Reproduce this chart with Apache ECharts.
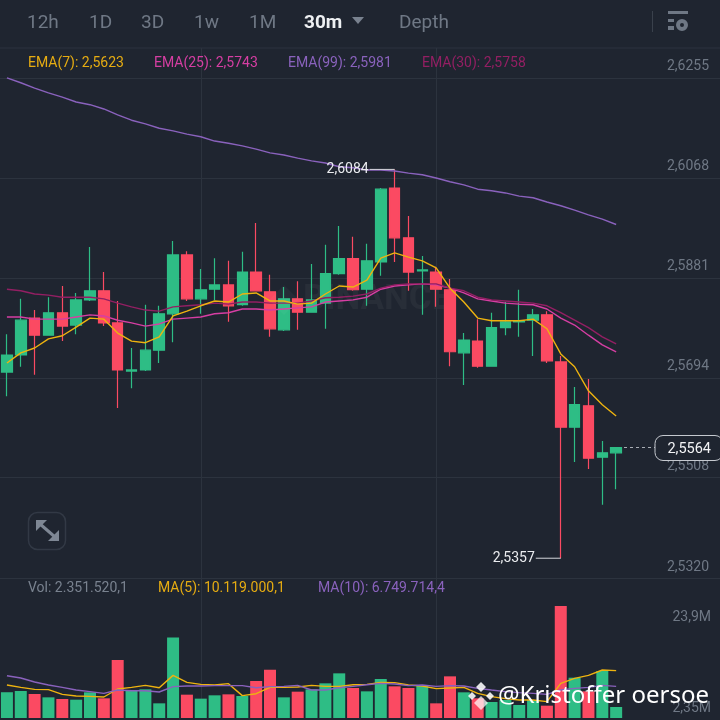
<!DOCTYPE html>
<html>
<head>
<meta charset="utf-8">
<script src="https://cdn.jsdelivr.net/npm/echarts@6/dist/echarts.min.js"></script>
<style>
  html, body { margin: 0; padding: 0; background: #1f2530; }
  #main { width: 720px; height: 720px; }
</style>
</head>
<body>
<div id="main"></div>
<script>
var opens = [2.5705,2.5737,2.5806,2.5774,2.5816,2.5793,2.5840,2.5857,2.5797,2.5707,2.5709,2.5746,2.5814,2.5924,2.5842,2.5860,2.5868,2.5831,2.5892,2.5855,2.5784,2.5842,2.5817,2.5834,2.5889,2.5917,2.5860,2.5911,2.6049,2.5956,2.5894,2.5892,2.5859,2.5741,2.5763,2.5716,2.5788,2.5799,2.5802,2.5812,2.5724,2.5602,2.5642,2.5546,2.5554];
var closes = [2.5737,2.5802,2.5774,2.5816,2.5791,2.5840,2.5857,2.5797,2.5709,2.5709,2.5746,2.5814,2.5924,2.5842,2.5859,2.5868,2.5829,2.5892,2.5857,2.5786,2.5842,2.5817,2.5840,2.5889,2.5917,2.5859,2.5913,2.6047,2.5956,2.5892,2.5896,2.5860,2.5743,2.5765,2.5716,2.5788,2.5799,2.5801,2.5812,2.5726,2.5602,2.5644,2.5544,2.5554,2.5564];
var lows = [2.5660,2.5715,2.5700,2.5773,2.5763,2.5776,2.5838,2.5791,2.5638,2.5675,2.5707,2.5722,2.5761,2.5838,2.5814,2.5840,2.5799,2.5829,2.5856,2.5771,2.5782,2.5784,2.5816,2.5786,2.5887,2.5857,2.5829,2.5885,2.5911,2.5857,2.5812,2.5827,2.5716,2.5681,2.5713,2.5715,2.5774,2.5771,2.5735,2.5722,2.5357,2.5537,2.5524,2.5457,2.5486];
var highs = [2.5776,2.5842,2.5821,2.5845,2.5866,2.5853,2.5939,2.5892,2.5838,2.5750,2.5831,2.5829,2.5950,2.5931,2.5898,2.5918,2.5913,2.5930,2.5984,2.5887,2.5864,2.5875,2.5907,2.5943,2.5978,2.5958,2.5945,2.6049,2.6084,2.5997,2.5922,2.5902,2.5879,2.5778,2.5804,2.5816,2.5836,2.5859,2.5823,2.5819,2.5735,2.5677,2.5692,2.5576,2.5564];

var ema7 = [2.5722,2.5741,2.5750,2.5767,2.5773,2.5789,2.5806,2.5804,2.5778,2.5763,2.5760,2.5771,2.5810,2.5819,2.5829,2.5838,2.5836,2.5851,2.5853,2.5838,2.5838,2.5832,2.5834,2.5851,2.5866,2.5864,2.5877,2.5918,2.5928,2.5920,2.5913,2.5900,2.5862,2.5836,2.5806,2.5801,2.5801,2.5801,2.5804,2.5786,2.5739,2.5715,2.5670,2.5644,2.5623];
var ema25 = [2.5808,2.5808,2.5804,2.5804,2.5804,2.5808,2.5812,2.5810,2.5802,2.5797,2.5791,2.5795,2.5804,2.5806,2.5808,2.5814,2.5816,2.5823,2.5823,2.5821,2.5823,2.5825,2.5827,2.5836,2.5838,2.5840,2.5845,2.5860,2.5866,2.5868,2.5870,2.5868,2.5862,2.5853,2.5842,2.5838,2.5834,2.5832,2.5831,2.5823,2.5806,2.5793,2.5774,2.5756,2.5743];
var ema99 = [2.6255,2.6246,2.6236,2.6227,2.6219,2.6210,2.6205,2.6197,2.6186,2.6176,2.6169,2.6161,2.6156,2.6150,2.6145,2.6137,2.6133,2.6128,2.6122,2.6115,2.6111,2.6105,2.6100,2.6096,2.6089,2.6087,2.6083,2.6083,2.6081,2.6077,2.6074,2.6068,2.6061,2.6055,2.6047,2.6044,2.6040,2.6034,2.6031,2.6023,2.6016,2.6008,2.5999,2.5991,2.5981];
var ema30 = [2.5860,2.5857,2.5851,2.5849,2.5845,2.5845,2.5845,2.5842,2.5834,2.5827,2.5821,2.5819,2.5827,2.5829,2.5831,2.5834,2.5832,2.5836,2.5836,2.5834,2.5834,2.5834,2.5838,2.5844,2.5845,2.5847,2.5851,2.5862,2.5868,2.5870,2.5870,2.5870,2.5862,2.5857,2.5845,2.5840,2.5838,2.5836,2.5834,2.5829,2.5816,2.5802,2.5788,2.5771,2.5758];

var volumes = [5.50,5.76,5.12,4.41,4.05,3.91,5.48,4.20,12.38,5.83,6.12,3.13,17.20,4.98,4.13,4.84,5.05,4.69,7.90,10.30,4.41,5.62,6.12,7.40,9.53,6.40,5.69,8.32,6.76,6.40,6.83,3.13,8.89,5.48,4.20,3.41,3.84,2.77,3.84,2.63,23.90,8.60,5.69,10.03,2.35];
var volMa5 = [7.04,6.54,6.12,6.05,5.05,4.69,4.62,4.48,6.19,6.54,6.97,6.47,9.10,7.61,7.18,7.04,7.33,4.77,5.19,6.54,6.54,6.62,6.97,6.76,6.76,7.11,7.18,7.61,7.54,7.04,6.83,6.26,6.40,6.54,5.26,4.55,4.13,3.84,3.84,3.49,7.40,8.46,9.10,10.24,10.12];
var volMa10 = [9.03,8.54,7.68,7.04,6.54,5.97,5.62,5.26,5.97,5.83,5.83,5.55,6.69,6.83,6.83,6.90,6.90,6.90,6.47,6.69,6.76,6.97,5.97,5.97,6.47,6.76,7.11,7.40,7.26,6.90,7.04,6.76,6.90,6.83,6.33,5.97,5.62,5.41,5.26,5.05,5.97,6.33,6.54,6.97,6.75];

var priceTicks = [2.5320, 2.5508, 2.5694, 2.5881, 2.6068, 2.6255];
var priceMin = 2.532, priceMax = 2.6311;
var volMax = 29.88;
var volTicks = [['23,9M', 23.9, 11], ['2,35M', 2.35, 2]];
var tabs = [['12h', 27], ['1D', 89], ['3D', 141], ['1w', 194], ['1M', 249], ['Depth', 399]];
var emaText = [['EMA(7): 2,5623', 28, '#e6ac12'], ['EMA(25): 2,5743', 154, '#d63ea3'], ['EMA(99): 2,5981', 288, '#8a62bd'], ['EMA(30): 2,5758', 422, '#931f63']];
var volText = [['Vol: 2.351.520,1', 28, '#79828f'], ['MA(5): 10.119.000,1', 158, '#e6ac12'], ['MA(10): 6.749.714,4', 318, '#8a62bd']];
var vLines = [14, 31];

var UP = '#2ebd85', DOWN = '#fb4a62', BG = '#1f2530', GRID = '#2c333e', MUTED = '#6f7885';
var FONT = 'Roboto';

// 7 empty slots on the right so the candles stop short of the price scale
var categories = [];
for (var n = 0; n < 52; n++) categories.push(String(n));

var ohlc = opens.map(function (o, i) { return [o, closes[i], lows[i], highs[i]]; });
var volBars = volumes.map(function (v, i) {
  return { value: v, itemStyle: { color: closes[i] >= opens[i] ? UP : DOWN } };
});

function line (name, data, color, xi, yi) {
  return {
    name: name, type: 'line', data: data, xAxisIndex: xi, yAxisIndex: yi,
    symbol: 'none', silent: true, z: 4,
    lineStyle: { color: color, width: 1.4 }
  };
}

function vMarks () {
  return {
    silent: true, symbol: 'none', z: 1, label: { show: false },
    lineStyle: { color: GRID, width: 1, type: 'solid' },
    data: vLines.map(function (i) { return { xAxis: i }; })
  };
}

function extreme (idx, val, text) {
  return {
    coord: [idx, val], symbol: 'rect', symbolSize: [25, 1], symbolOffset: [-12.5, 0],
    itemStyle: { color: '#d5d8dc' },
    label: { show: true, position: 'left', distance: 1, formatter: text, color: '#eaecef', fontSize: 14, fontFamily: FONT }
  };
}

var myChart = echarts.init(document.getElementById('main'));

myChart.setOption({
  animation: false,
  backgroundColor: BG,
  grid: [
    { left: -6, right: -2, top: 48, height: 530 },
    { left: -6, right: -2, top: 578, height: 140 }
  ],
  xAxis: [
    { type: 'category', gridIndex: 0, data: categories, axisLine: { show: false }, axisTick: { show: false }, axisLabel: { show: false } },
    { type: 'category', gridIndex: 1, data: categories, axisLine: { show: false }, axisTick: { show: false }, axisLabel: { show: false } }
  ],
  yAxis: [
    {
      type: 'value', gridIndex: 0, position: 'right', scale: true, min: priceMin, max: priceMax,
      axisLine: { show: false },
      axisTick: { show: false, customValues: priceTicks },
      splitLine: { show: true, lineStyle: { color: GRID, width: 1 } },
      axisLabel: {
        inside: true, customValues: priceTicks, margin: 11, align: 'right', verticalAlign: 'bottom',
        color: MUTED, fontSize: 14, fontFamily: FONT, lineHeight: 22,
        formatter: function (v) { return v.toFixed(4).replace('.', ','); }
      }
    },
    {
      type: 'value', gridIndex: 1, position: 'right', min: 0, max: volMax,
      axisLine: { show: false }, axisTick: { show: false }, axisLabel: { show: false }, splitLine: { show: false }
    }
  ],
  series: [
    {
      name: 'price', type: 'candlestick', data: ohlc, xAxisIndex: 0, yAxisIndex: 0, barWidth: 11, z: 2,
      itemStyle: { color: UP, color0: DOWN, borderColor: UP, borderColor0: DOWN, borderWidth: 1.2 },
      markLine: vMarks(),
      markPoint: { silent: true, z: 6, data: [extreme(28, 2.6084, '2,6084'), extreme(40, 2.5357, '2,5357')] }
    },
    line('EMA(25)', ema25, '#d63ea3', 0, 0),
    line('EMA(30)', ema30, '#931f63', 0, 0),
    line('EMA(99)', ema99, '#8a62bd', 0, 0),
    line('EMA(7)', ema7, '#eeb30f', 0, 0),
    { name: 'Vol', type: 'bar', data: volBars, xAxisIndex: 1, yAxisIndex: 1, barWidth: 12, z: 2, markLine: vMarks() },
    line('MA(5)', volMa5, '#eeb30f', 1, 1),
    line('MA(10)', volMa10, '#8a62bd', 1, 1)
  ]
});

function txt (text, x, y, color, size, extra) {
  return Object.assign({
    type: 'text', x: x, y: y, z: 10, silent: true,
    style: Object.assign({ text: text, fill: color, fontSize: size, fontFamily: FONT, verticalAlign: 'middle' }, extra && extra.style)
  }, extra && extra.el);
}

function rect (x, y, w, h, fill, r) {
  return { type: 'rect', z: 10, silent: true, shape: { x: x, y: y, width: w, height: h, r: r || 0 }, style: { fill: fill } };
}

function poly (points, fill, z, opacity) {
  return { type: 'polygon', z: z || 10, silent: true, shape: { points: points }, style: { fill: fill, opacity: opacity == null ? 1 : opacity } };
}

function diamond (cx, cy, r, fill, z, opacity) {
  return poly([[cx, cy - r], [cx + r, cy], [cx, cy + r], [cx - r, cy]], fill, z, opacity);
}

var lastY = myChart.convertToPixel({ yAxisIndex: 0 }, closes[closes.length - 1]);
var gfx = [];

// header tabs
tabs.forEach(function (t) { gfx.push(txt(t[0], t[1], 23, MUTED, 19)); });
gfx.push(txt('30m', 304, 23, '#eef0f2', 19, { style: { fontWeight: 'bold' } }));
gfx.push(poly([[352, 17], [364, 17], [358, 24]], '#79828f'));
gfx.push(rect(652, 11, 1, 21, '#3a414c'));
gfx.push(rect(668, 11, 20, 3, '#6f7885'), rect(668, 19, 6, 3, '#6f7885'), rect(668, 26, 6, 4, '#6f7885'));
gfx.push({ type: 'circle', z: 10, silent: true, shape: { cx: 682, cy: 25, r: 4 }, style: { fill: 'none', stroke: '#6f7885', lineWidth: 4 } });

// separators and legends
gfx.push({ type: 'line', z: 0, silent: true, shape: { x1: 0, y1: 48, x2: 720, y2: 48 }, style: { stroke: GRID, lineWidth: 1 } });
emaText.forEach(function (t) { gfx.push(txt(t[0], t[1], 63, t[2], 14)); });
volText.forEach(function (t) { gfx.push(txt(t[0], t[1], 588, t[2], 14)); });

// volume scale labels sit a little below their level
volTicks.forEach(function (t) {
  var y = myChart.convertToPixel({ yAxisIndex: 1 }, t[1]);
  gfx.push(txt(t[0], 711, y + t[2], MUTED, 14, { style: { align: 'right' } }));
});

// last price pill
gfx.push({ type: 'line', z: 5, silent: true, shape: { x1: 624, y1: lastY, x2: 655, y2: lastY }, style: { stroke: '#a9aeb5', lineWidth: 1, lineDash: [3, 3] } });
gfx.push({ type: 'rect', z: 9, silent: true, shape: { x: 655, y: lastY - 12, width: 68, height: 25, r: 8 }, style: { fill: BG, stroke: '#c5c9cf', lineWidth: 1 } });
gfx.push(txt('2,5564', 711, lastY + 2, '#f2f3f5', 14.5, { style: { align: 'right' } }));

// expand button
gfx.push({ type: 'rect', z: 10, silent: true, shape: { x: 28.5, y: 512.5, width: 37, height: 37, r: 9 }, style: { fill: 'none', stroke: '#323945', lineWidth: 1.5 } });
gfx.push(poly([[36, 520], [47, 520], [36, 531]], '#7e8794'), poly([[59, 541], [48, 541], [59, 530]], '#7e8794'));
gfx.push({ type: 'line', z: 10, silent: true, shape: { x1: 40, y1: 524, x2: 55, y2: 537 }, style: { stroke: '#7e8794', lineWidth: 3 } });

// faint exchange mark behind the candles
gfx.push(txt('BINANCE', 303, 300, 'rgba(255,255,255,0.045)', 35, { el: { z: 0 }, style: { fontWeight: 'bold' } }));
gfx[gfx.length - 1].z = 0;
gfx.push(diamond(284, 300, 15, 'rgba(255,255,255,0.035)', 0));

// watermark over the bottom right corner
var wm = 'rgba(255,255,255,0.88)';
gfx.push(diamond(481, 687, 5, wm, 12), diamond(472, 696, 4, wm, 12), diamond(490, 696, 4, wm, 12), diamond(481, 703, 7, 'rgba(255,255,255,0.72)', 12));
gfx.push(txt('@Kristoffer oersoe', 498, 696, '#ffffff', 24, { el: { z: 12 }, style: { fontFamily: 'Noto Sans' } }));
gfx[gfx.length - 1].z = 12;

myChart.setOption({ graphic: gfx });
</script>
</body>
</html>
